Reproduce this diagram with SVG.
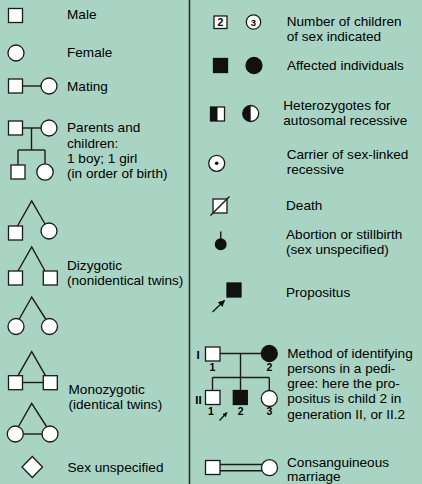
<svg xmlns="http://www.w3.org/2000/svg" width="422" height="484" viewBox="0 0 422 484">
<defs>
<style>
.bg{fill:#a9d4c3}
.sym{fill:#fff;stroke:#1a1a1a;stroke-width:1.3}
.fill{fill:#111;stroke:#111;stroke-width:1.3}
.ln{fill:none;stroke:#1a1a1a;stroke-width:1.4}
text{font-family:"Liberation Sans",Arial,Helvetica,sans-serif;font-size:13.6px;fill:#000}
.num{font-size:10.5px;font-weight:bold;text-anchor:middle}
.gen{font-size:11.5px;font-weight:bold;text-anchor:middle}
</style>
<marker id="ah" viewBox="0 0 10 10" refX="9" refY="5" markerWidth="5" markerHeight="5" orient="auto" markerUnits="userSpaceOnUse">
<path d="M0,0 L10,5 L0,10 z" fill="#111"/>
</marker>
<marker id="ah2" viewBox="0 0 10 10" refX="9" refY="5" markerWidth="7" markerHeight="7" orient="auto" markerUnits="userSpaceOnUse">
<path d="M0,0 L10,5 L0,10 z" fill="#111"/>
</marker>
</defs>
<rect class="bg" x="0" y="0" width="422" height="484"/>
<line x1="189.5" y1="0" x2="189.5" y2="484" stroke="#2a2a2a" stroke-width="1.6"/>

<g id="connectors">
<line class="ln" x1="22" y1="86" x2="41" y2="86"/>
<line class="ln" x1="22" y1="128" x2="41" y2="128"/>
<line class="ln" x1="31.5" y1="128" x2="31.5" y2="150"/>
<line class="ln" x1="18" y1="150" x2="45" y2="150"/>
<line class="ln" x1="18" y1="150" x2="18" y2="165"/>
<line class="ln" x1="45" y1="150" x2="45" y2="164"/>
<polyline class="ln" points="17.5,226 31.7,201 45,224"/>
<polyline class="ln" points="18,271 31.7,247 45,271"/>
<polyline class="ln" points="19,319.5 31.7,297 46,319.5"/>
<polyline class="ln" points="18,375.7 31.7,351.7 45.5,375.7"/>
<line class="ln" x1="22" y1="382.5" x2="43" y2="382.5"/>
<polyline class="ln" points="18.5,426.5 31.7,403.3 46.5,426.5"/>
<line class="ln" x1="23.3" y1="434" x2="42" y2="434"/>
<line class="ln" x1="220.7" y1="231.5" x2="220.7" y2="242"/>
<line class="ln" x1="212.5" y1="312" x2="224.5" y2="300.5" marker-end="url(#ah2)"/>
<line class="ln" x1="220" y1="353.5" x2="261" y2="353.5"/>
<line class="ln" x1="240.5" y1="353.5" x2="240.5" y2="377.5"/>
<line class="ln" x1="212.5" y1="377.5" x2="269.3" y2="377.5"/>
<line class="ln" x1="212.5" y1="377.5" x2="212.5" y2="390.5"/>
<line class="ln" x1="240.5" y1="377.5" x2="240.5" y2="390.5"/>
<line class="ln" x1="269.3" y1="377.5" x2="269.3" y2="390.5"/>
<line class="ln" x1="219.5" y1="420.5" x2="227" y2="412.5" marker-end="url(#ah)"/>
<line class="ln" x1="220" y1="464.5" x2="262" y2="464.5"/>
<line class="ln" x1="220" y1="470.8" x2="262" y2="470.8"/>
</g>

<g id="male"><rect class="sym" x="8.5" y="8.5" width="14" height="14"/><text x="67" y="18.5">Male</text></g>
<g id="female"><circle class="sym" cx="16" cy="53" r="8"/><text x="67" y="56.5">Female</text></g>
<g id="mating"><rect class="sym" x="8.5" y="79" width="14" height="14"/><circle class="sym" cx="49" cy="86" r="8"/><text x="67" y="90.5">Mating</text></g>
<g id="parents">
<rect class="sym" x="8.5" y="121" width="14" height="14"/><circle class="sym" cx="49" cy="128" r="8"/>
<rect class="sym" x="11" y="165" width="14" height="14"/><circle class="sym" cx="45" cy="172" r="8.2"/>
<text x="67" y="132">Parents and</text><text x="67" y="147.5">children:</text><text x="67" y="163">1 boy; 1 girl</text><text x="67" y="178">(in order of birth)</text>
</g>
<g id="dizygotic">
<rect class="sym" x="8.5" y="226" width="14" height="14"/><circle class="sym" cx="49" cy="231" r="8"/>
<rect class="sym" x="8.5" y="271" width="14" height="14"/><rect class="sym" x="43.3" y="271" width="14" height="14"/>
<circle class="sym" cx="16" cy="326.5" r="8"/><circle class="sym" cx="49.5" cy="326.5" r="8"/>
<text x="67" y="270">Dizygotic</text><text x="67" y="285">(nonidentical twins)</text>
</g>
<g id="monozygotic">
<rect class="sym" x="8.5" y="375.7" width="14" height="14"/><rect class="sym" x="43.3" y="375.7" width="14" height="14"/>
<circle class="sym" cx="15.3" cy="434" r="8"/><circle class="sym" cx="50" cy="434" r="8"/>
<text x="68.5" y="394">Monozygotic</text><text x="68.5" y="409">(identical twins)</text>
</g>
<g id="sexunspecified"><polygon class="sym" points="32.3,456.5 42.5,467 32.3,477.5 22,467"/><text x="67.5" y="472">Sex unspecified</text></g>

<g id="number">
<rect class="sym" x="214" y="16" width="13" height="12.5"/><text class="num" x="220.5" y="26">2</text>
<circle class="sym" cx="253.5" cy="22" r="7.2"/><text class="num" x="253.5" y="25.8" style="font-size:9.5px">3</text>
<text x="286.7" y="26">Number of children</text><text x="286.7" y="40.5">of sex indicated</text>
</g>
<g id="affected">
<rect class="fill" x="213.5" y="58.5" width="14" height="14"/><circle class="fill" cx="254" cy="65.5" r="8"/>
<text x="287" y="70">Affected individuals</text>
</g>
<g id="heterozygotes">
<rect class="sym" x="210.5" y="107" width="14" height="14"/><rect x="210.5" y="107" width="7" height="14" fill="#111"/>
<circle class="sym" cx="250.7" cy="113.5" r="8"/><path d="M250.7,105.5 A8,8 0 0 0 250.7,121.5 Z" fill="#111"/>
<text x="283.3" y="110">Heterozygotes for</text><text x="283.3" y="125">autosomal recessive</text>
</g>
<g id="carrier">
<circle class="sym" cx="216.7" cy="163.3" r="8"/><circle cx="216.7" cy="163.3" r="1.8" fill="#111"/>
<text x="286.7" y="158.5">Carrier of sex-linked</text><text x="286.7" y="173.5">recessive</text>
</g>
<g id="death">
<rect class="sym" x="213" y="199" width="14" height="14"/>
<line class="ln" x1="210.5" y1="215.5" x2="229.5" y2="196.5"/>
<text x="286" y="209.5">Death</text>
</g>
<g id="abortion"><circle class="fill" cx="220.7" cy="244.3" r="5.3"/><text x="286" y="238.5">Abortion or stillbirth</text><text x="286" y="253.5">(sex unspecified)</text></g>
<g id="propositus"><rect class="fill" x="227" y="283" width="14" height="14"/><text x="286" y="297">Propositus</text></g>
<g id="pedigree">
<text class="gen" x="198" y="358.5">I</text>
<text class="gen" x="198.5" y="404">II</text>
<rect class="sym" x="205.5" y="347" width="14.5" height="14"/><circle class="fill" cx="269.3" cy="353.5" r="8"/>
<text class="num" x="212.5" y="371">1</text><text class="num" x="269.3" y="371">2</text>
<rect class="sym" x="205.5" y="390.5" width="14.5" height="14"/><rect class="fill" x="233.3" y="390.5" width="14" height="14"/><circle class="sym" cx="269.3" cy="398.5" r="8"/>
<text class="num" x="211" y="414.5">1</text><text class="num" x="240.7" y="414.5">2</text><text class="num" x="269.3" y="414.5">3</text>
<text x="287.3" y="357.5">Method of identifying</text><text x="287.3" y="373">persons in a pedi-</text><text x="287.3" y="388">gree: here the pro-</text><text x="287.3" y="403.3">positus is child 2 in</text><text x="287.3" y="418.5">generation II, or II.2</text>
</g>
<g id="consanguineous">
<rect class="sym" x="205.5" y="460.5" width="14.5" height="14"/><circle class="sym" cx="269.5" cy="467.7" r="8"/>
<text x="287" y="466.5">Consanguineous</text><text x="287" y="480.5">marriage</text>
</g>
</svg>
